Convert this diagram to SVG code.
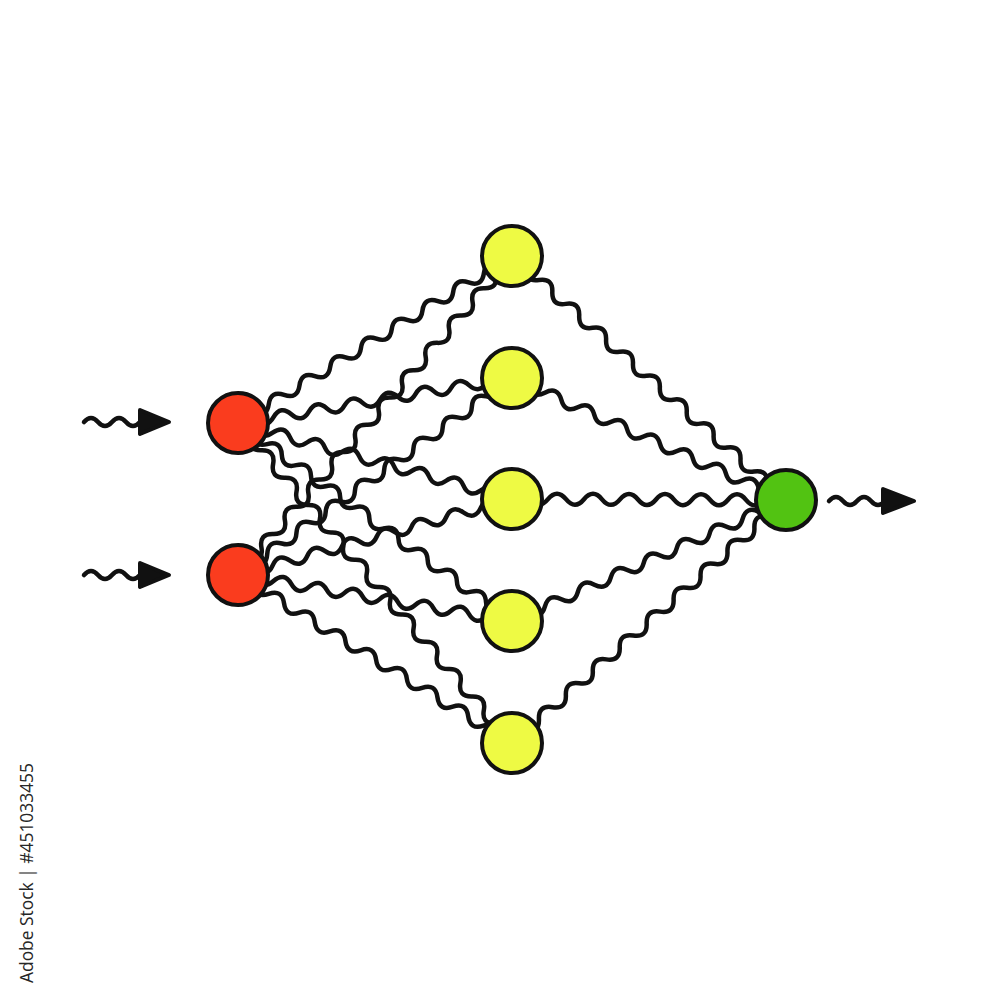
<svg xmlns="http://www.w3.org/2000/svg" xmlns:xlink="http://www.w3.org/1999/xlink" width="1000" height="1000" viewBox="0 0 1000 1000">
  <style>
    .wire { fill: none; stroke: #111; stroke-width: 4.5; stroke-linecap: round; stroke-linejoin: round; }
    .node { stroke: #111; stroke-width: 4; }
    .in { fill: #FA3C1E; }
    .hid { fill: #EEFA44; }
    .out { fill: #52C312; }
    .head { fill: #111; stroke: #111; stroke-width: 4; stroke-linejoin: round; }
    .label { font-family: "Open Sans", "DejaVu Sans", sans-serif; font-size: 19px; fill: #262626; }
  </style>
  <defs>
    <path id="w288" d="M0,0 q9,-11 18,0 t18,0 t18,0 t18,0 t18,0 t18,0 t18,0 t18,0 t18,0 t18,0 t18,0 t18,0 t18,0 t18,0 t18,0 t18,0"/>
    <path id="w306" d="M0,0 q9,-11 18,0 t18,0 t18,0 t18,0 t18,0 t18,0 t18,0 t18,0 t18,0 t18,0 t18,0 t18,0 t18,0 t18,0 t18,0 t18,0 t18,0"/>
    <path id="w342" d="M0,0 q9,-11 18,0 t18,0 t18,0 t18,0 t18,0 t18,0 t18,0 t18,0 t18,0 t18,0 t18,0 t18,0 t18,0 t18,0 t18,0 t18,0 t18,0 t18,0 t18,0"/>
    <path id="w378" d="M0,0 q9,-11 18,0 t18,0 t18,0 t18,0 t18,0 t18,0 t18,0 t18,0 t18,0 t18,0 t18,0 t18,0 t18,0 t18,0 t18,0 t18,0 t18,0 t18,0 t18,0 t18,0 t18,0"/>
    <path id="w432" d="M0,0 q9,-11 18,0 t18,0 t18,0 t18,0 t18,0 t18,0 t18,0 t18,0 t18,0 t18,0 t18,0 t18,0 t18,0 t18,0 t18,0 t18,0 t18,0 t18,0 t18,0 t18,0 t18,0 t18,0 t18,0 t18,0"/>
  </defs>

  <g id="connectors" class="wire">
    <!-- input red 1 -->
    <use xlink:href="#w342" transform="translate(238,423) rotate(-31.36)"/>
    <use xlink:href="#w288" transform="translate(238,423) rotate(-9.33)"/>
    <use xlink:href="#w288" transform="translate(238,423) rotate(15.50)"/>
    <use xlink:href="#w342" transform="translate(238,423) rotate(35.85)"/>
    <use xlink:href="#w432" transform="translate(238,423) rotate(49.43)"/>
    <!-- input red 2 -->
    <use xlink:href="#w432" transform="translate(238,575) rotate(-49.34)"/>
    <use xlink:href="#w342" transform="translate(238,575) rotate(-35.71)"/>
    <use xlink:href="#w288" transform="translate(238,575) rotate(-15.50)"/>
    <use xlink:href="#w288" transform="translate(238,575) rotate(9.53)"/>
    <use xlink:href="#w342" transform="translate(238,575) rotate(31.52)"/>
    <!-- hidden to output -->
    <use xlink:href="#w378" transform="translate(512,256) rotate(41.69)"/>
    <use xlink:href="#w306" transform="translate(512,378) rotate(24.00)"/>
    <use xlink:href="#w288" transform="translate(512,499) rotate(0.21)"/>
    <use xlink:href="#w306" transform="translate(512,621) rotate(-23.83)"/>
    <use xlink:href="#w378" transform="translate(512,743) rotate(-41.57)"/>
    <!-- in/out arrows -->
    <path d="M84,422 q7,-8 14,0 t14,0 t14,0 t14,0"/>
    <path d="M84,575 q7,-8 14,0 t14,0 t14,0 t14,0"/>
    <path d="M829,501 q7,-8 14,0 t14,0 t14,0 t14,0"/>
    <polygon class="head" points="140,410 169,422 140,434"/>
    <polygon class="head" points="140,563 169,575 140,587"/>
    <polygon class="head" points="883,489 914,501 883,513"/>
  </g>

  <g id="input1"><circle class="node in" cx="238" cy="423" r="30"/></g>
  <g id="input2"><circle class="node in" cx="238" cy="575" r="30"/></g>
  <g id="hidden1"><circle class="node hid" cx="512" cy="256" r="30"/></g>
  <g id="hidden2"><circle class="node hid" cx="512" cy="378" r="30"/></g>
  <g id="hidden3"><circle class="node hid" cx="512" cy="499" r="30"/></g>
  <g id="hidden4"><circle class="node hid" cx="512" cy="621" r="30"/></g>
  <g id="hidden5"><circle class="node hid" cx="512" cy="743" r="30"/></g>
  <g id="output"><circle class="node out" cx="786" cy="500" r="30"/></g>

  <text class="label" transform="translate(33,983) rotate(-90)" textLength="220" lengthAdjust="spacingAndGlyphs">Adobe Stock | #451033455</text>
</svg>
